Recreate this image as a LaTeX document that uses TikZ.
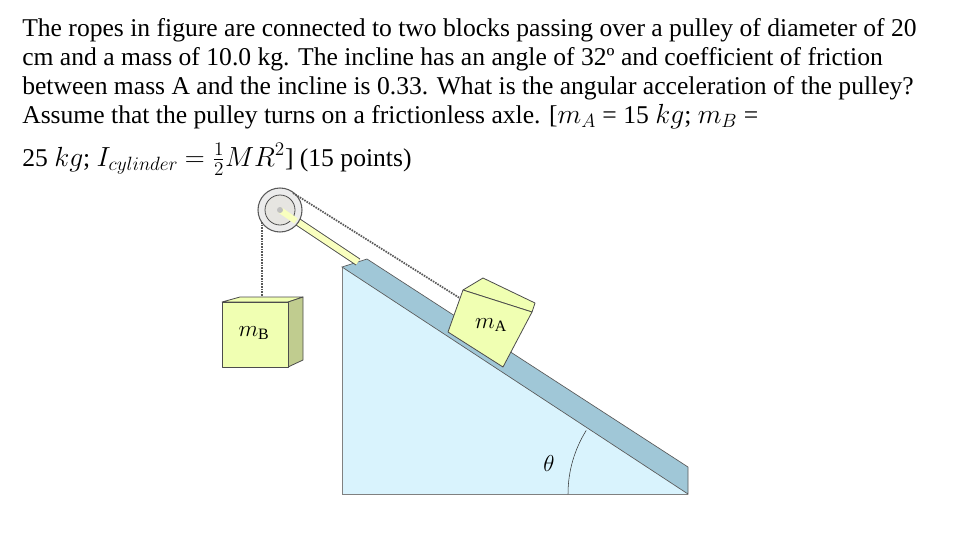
\documentclass[tikz,border=0pt]{standalone}
\usepackage{fontspec}
\setmainfont{Liberation Serif}
\colorlet{blkc}{green!20!yellow!30!white}
\begin{document}
\begin{tikzpicture}[x=0.75pt,y=-0.75pt,
  txt/.style={anchor=base west,inner sep=0pt,font=\fontsize{19.2}{22}\selectfont},
  blk/.style={fill=blkc,draw=black!70,line width=0.6pt,line join=round},
  rope/.style={draw=gray!70!black,line width=1.3pt,dash pattern=on 1.2pt off 0.8pt}]
\useasboundingbox (0,0) rectangle (962,544);
\node[txt] (l1) at (22,36) {The ropes in figure are connected to two blocks passing over a pulley of diameter of 20};
\node[txt] (l2) at (22,65) {cm and a mass of 10.0 kg. The incline has an angle of 32º and coefficient of friction};
\node[txt] (l3) at (22,94) {between mass A and the incline is 0.33. What is the angular acceleration of the pulley?};
\node[txt] (l4) at (22,123) {Assume that the pulley turns on a frictionless axle. [$m_A$ = 15 $kg$; $m_B$ =};
\node[txt] (l5) at (22,166) {25 $kg$; $I_{cylinder}$ $=\frac{1}{2}MR^2$] (15 points)};
% incline
\fill[cyan!15] (342,267) -- (342,494) -- (688,494) -- cycle;
\draw[gray,line width=0.6pt] (342,494) -- (342,267) (342,494) -- (688,494);
\filldraw[fill=gray!55!cyan!60!white,draw=gray!70!black,line width=0.5pt] (342,267) -- (367,259) -- (688,467) -- (688,494) -- cycle;
\draw[black!80] (568,494) arc[start angle=180,end angle=212,radius=120];
\node (th) at (549,463) {\fontsize{17}{19}\selectfont$\theta$};
% rod
\draw[line width=6pt,draw=gray!60!black] (280,210) -- (358,262);
\draw[line width=4.6pt,draw=green!10!yellow!25!white] (280,210) -- (358,262);
% pulley
\filldraw[fill=gray!15,draw=gray!70!black,line width=0.8pt] (280,210) circle (22);
\filldraw[fill=yellow!8!gray!25,draw=gray!60!black,line width=0.6pt] (280,210) circle (15);
\draw[line width=4.6pt,draw=green!10!yellow!25!white] (280,210) -- (296,221);
\fill[gray!50] (280,210) circle (3);
% ropes
\coordinate (pt) at (293,193);
\coordinate (pl) at (262,222);
\draw[rope] (pt) -- (466,302);
\draw[rope] (pl) -- (262,298);
% block A
\filldraw[blk] (463,290) -- (483,278) -- (535,303) -- (532,312) -- cycle;
\filldraw[blk] (463,290) -- (532,312) -- (503,367) -- (448,332) -- cycle;
\node (ma) at (491,325) {\fontsize{17}{19}\selectfont$m_{\mathrm A}$};
% block B
\filldraw[blk] (222,302) -- (240,297) -- (303,297) -- (288,302) -- cycle;
\filldraw[blk,fill=blkc!80!black] (288,302) -- (303,297) -- (303,360) -- (288,367) -- cycle;
\filldraw[blk] (222,302) rectangle (288,367);
\node (mb) at (254,333) {\fontsize{17}{19}\selectfont$m_{\mathrm B}$};
\end{tikzpicture}
\end{document}
